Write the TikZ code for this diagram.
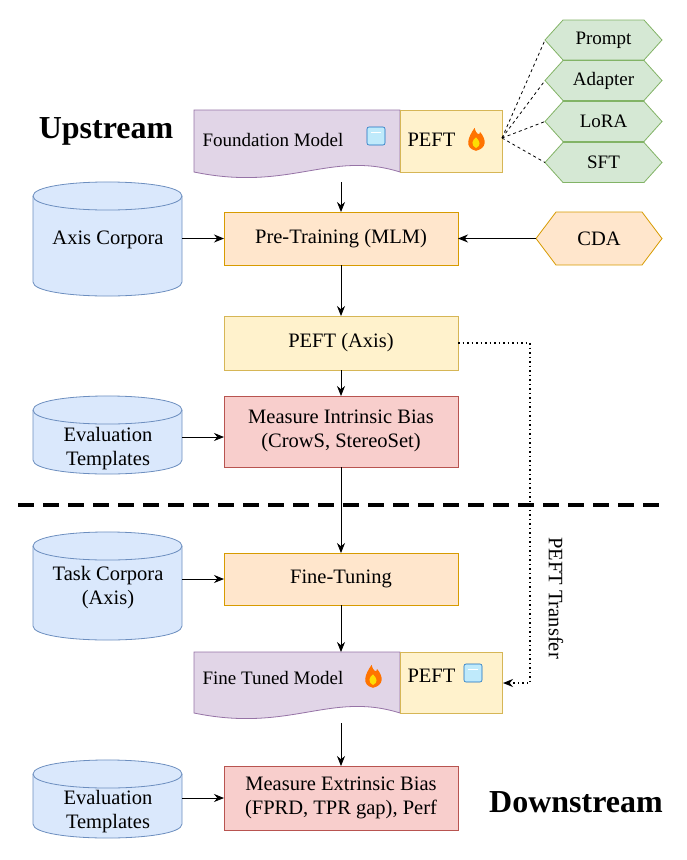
\documentclass[tikz,border=0pt]{standalone}
\usepackage{fontspec}
\setmainfont{Liberation Serif}
\usetikzlibrary{arrows.meta,shapes.geometric}
\definecolor{bF}{HTML}{DAE8FC}\definecolor{bD}{HTML}{6C8EBF}
\definecolor{oF}{HTML}{FFE6CC}\definecolor{oD}{HTML}{D79B00}
\definecolor{yF}{HTML}{FFF2CC}\definecolor{yD}{HTML}{D6B656}
\definecolor{rF}{HTML}{F8CECC}\definecolor{rD}{HTML}{B85450}
\definecolor{gF}{HTML}{D5E8D4}\definecolor{gD}{HTML}{82B366}
\definecolor{pF}{HTML}{E1D5E7}\definecolor{pD}{HTML}{9673A6}
\newcommand\mycyl[4]{% x1 y1 x2 y2
 \filldraw[fill=bF,draw=bD,line width=0.8pt] (#1,#2+14) -- (#1,#4-14) .. controls (#1,#4+4.7) and (#3,#4+4.7) .. (#3,#4-14) -- (#3,#2+14) .. controls (#3,#2-4.7) and (#1,#2-4.7) .. cycle;
 \draw[bD,line width=0.8pt] (#1,#2+14) .. controls (#1,#2+32.7) and (#3,#2+32.7) .. (#3,#2+14);}
\newcommand\ice[2]{\filldraw[fill=cyan!25,draw=cyan!50!blue,rounded corners=2pt,line width=0.6pt] (#1-9,#2-9) rectangle (#1+9,#2+9); \draw[white,line width=1pt](#1-5,#2-4)--(#1+5,#2-4);}
\newcommand\fire[2]{\begin{scope}[shift={(#1,#2)},scale=1.35]\fill[orange!90!red] (0,8) .. controls (-9,6) and (-6,-2) .. (-1,-9) .. controls (0,-4) and (3,-3) .. (3,-6) .. controls (8,0) and (8,6) .. cycle; \fill[yellow!80!orange] (0,6) .. controls (-4,4) and (-3,0) .. (0,-2) .. controls (3,1) and (4,4) .. cycle;\end{scope}}
\begin{document}
\begin{tikzpicture}[x=1pt,y=-1pt,
 box/.style={draw=#1D,fill=#1F,line width=0.8pt},
 t/.style={font=\fontsize{20.5}{24}\selectfont,align=center},
 arr/.style={-{Stealth[length=10pt,width=8pt]},line width=0.9pt}]
\useasboundingbox (0,0) rectangle (686,860);
% titles
\node[font=\bfseries\fontsize{32}{36}\selectfont] (up) at (106,131) {Upstream};
\node[font=\bfseries\fontsize{32}{36}\selectfont] (down) at (576,802) {Downstream};
% foundation model
\filldraw[box=p] (194,110) -- (400,110) -- (400,172) .. controls (330,150) and (290,192) .. (194,172) -- cycle;
\node[t,font=\fontsize{19}{22}\selectfont,anchor=west] (fm) at (199,140) {Foundation Model};
\ice{376}{136}
\filldraw[box=y] (400,110) rectangle (502,172);
\node[t,anchor=west] (pe1) at (404,140) {PEFT};
\fire{476}{140}
\coordinate (pr) at (502,138);
% hexagons
\foreach \n/\txt/\y in {h1/Prompt/40,h2/Adapter/80.5,h3/LoRA/121.5,h4/SFT/162.5}{
 \filldraw[box=g] (545,\y) -- (563,\y-20) -- (644,\y-20) -- (662,\y) -- (644,\y+20) -- (563,\y+20) -- cycle;
 \coordinate (\n) at (545,\y);
 \node[t,font=\fontsize{19}{22}\selectfont] at (603.5,\y) {\txt};
 \draw[dashed,line width=0.8pt] (pr) -- (\n);}
% axis corpora
\mycyl{33}{182}{182}{296}
\node[t] (ac) at (108,240) {Axis Corpora};
\filldraw[box=o] (224,212) rectangle (458,265);
\node[t] (pt) at (341,238.5) {Pre-Training (MLM)};
\filldraw[box=o] (536,238.5) -- (556,212) -- (642,212) -- (662,238.5) -- (642,265) -- (556,265) -- cycle;
\node[t] (cda) at (599,238.5) {CDA};
\draw[arr] (341,182) -- (341,212);
\draw[arr] (182,238.5) -- (224,238.5);
\draw[arr] (536,238.5) -- (458,238.5);
% PEFT axis
\filldraw[box=y] (224,316) rectangle (458,370);
\node[t] (pa) at (341,343) {PEFT (Axis)};
\draw[arr] (341,265) -- (341,316);
% intrinsic
\mycyl{33}{396}{182}{474}
\node[t] (et1) at (108,449) {Evaluation\\Templates};
\filldraw[box=r] (224,396) rectangle (458,467);
\node[t] (mi) at (341,431) {Measure Intrinsic Bias\\(CrowS, StereoSet)};
\draw[arr] (341,370) -- (341,396);
\draw[arr] (182,437) -- (224,437);
% divider
\draw[dash pattern=on 16pt off 9pt,line width=3.5pt] (18,505) -- (665,505);
% fine-tuning
\mycyl{33}{532}{182}{640}
\node[t] (tc) at (108,588) {Task Corpora\\(Axis)};
\filldraw[box=o] (224,553) rectangle (458,605);
\node[t] (ft) at (341,579) {Fine-Tuning};
\draw[arr] (341,467) -- (341,553);
\draw[arr] (182,579) -- (224,579);
% fine tuned model
\filldraw[box=p] (194,652) -- (400,652) -- (400,713) .. controls (330,691) and (290,733) .. (194,713) -- cycle;
\node[t,font=\fontsize{19}{22}\selectfont,anchor=west] (ftm) at (199,678) {Fine Tuned Model};
\fire{373}{677}
\filldraw[box=y] (400,652) rectangle (502,713);
\node[t,anchor=west] (pe2) at (404,676) {PEFT};
\ice{473}{673}
\draw[arr] (341,605) -- (341,652);
\draw[arr,dash pattern=on 1.5pt off 3pt,line width=1.8pt] (458,343) -- (530,343) -- (530,683) -- (503,683);
\node[t,rotate=-90] (ptl) at (556,598) {PEFT Transfer};
% extrinsic
\mycyl{33}{760}{182}{838}
\node[t] (et2) at (108,812) {Evaluation\\Templates};
\filldraw[box=r] (224,766) rectangle (458,830);
\node[t] (me) at (341,798) {Measure Extrinsic Bias\\(FPRD, TPR gap), Perf};
\draw[arr] (341,723) -- (341,766);
\draw[arr] (182,798) -- (224,798);
\end{tikzpicture}
\end{document}
